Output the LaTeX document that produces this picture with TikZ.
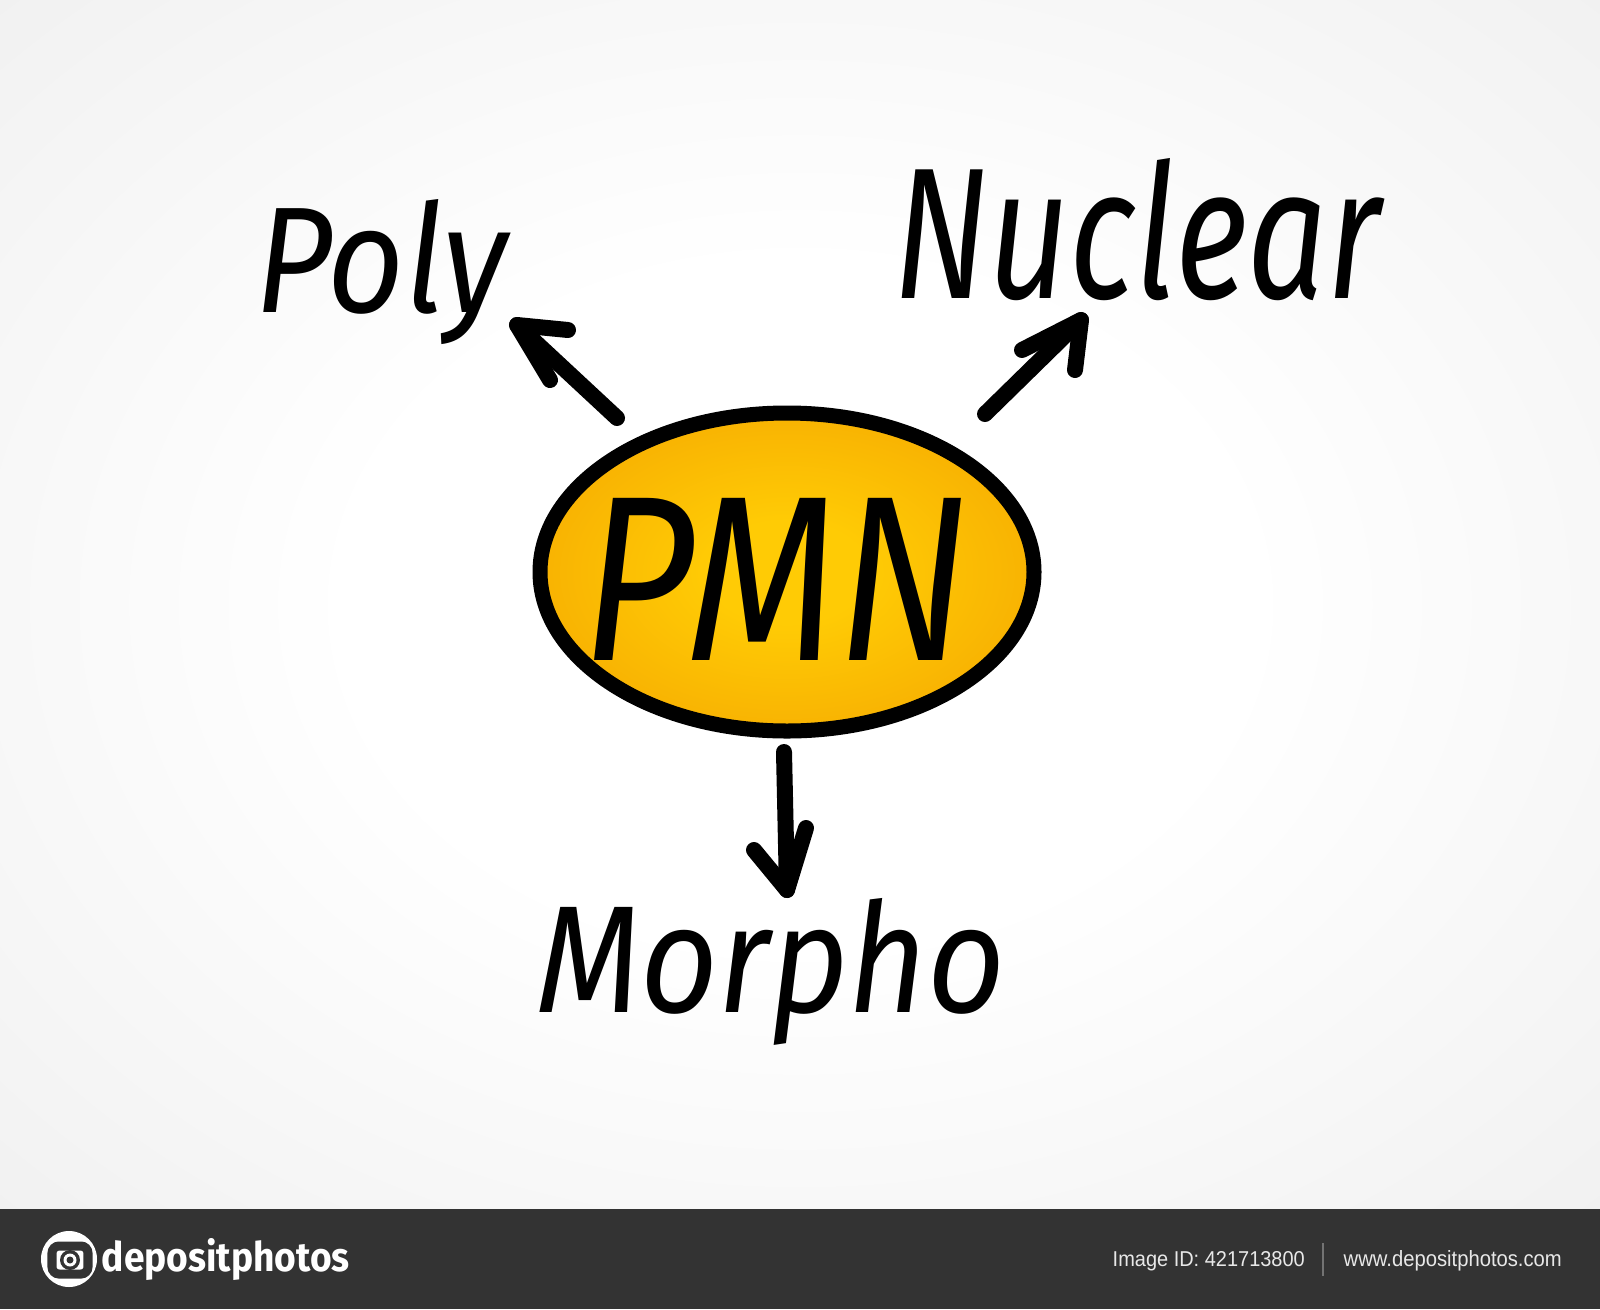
\documentclass[tikz,border=0pt]{standalone}
\usepackage{fontspec}
\setmainfont{Fira Sans}
\newfontfamily\barfont{Liberation Sans}
\usepackage{graphicx}
\definecolor{barcol}{HTML}{333333}
\definecolor{pmnyellow}{HTML}{FFCB05}
\definecolor{pmnorange}{HTML}{F3A000}
\definecolor{bgedge}{HTML}{E0E0E0}
\definecolor{bgmid}{HTML}{EBEBEB}
\definecolor{bartext}{HTML}{E8E8E8}
\pgfdeclareradialshading{bgshade}{\pgfpoint{0bp}{0bp}}{color(0bp)=(white); color(14bp)=(white); color(45bp)=(bgmid); color(71bp)=(bgedge)}
\pgfdeclareradialshading{pmnshade}{\pgfpoint{0bp}{0bp}}{color(0bp)=(pmnyellow); color(8bp)=(pmnyellow); color(38bp)=(pmnorange); color(60bp)=(pmnorange)}
\tikzset{
  hand/.style={line width=1.6mm, line cap=round, line join=round, black},
  word/.style={anchor=base west, inner sep=0pt, outer sep=0pt, font=\itshape},
}
\begin{document}
\begin{tikzpicture}[x=0.01cm, y=-0.01cm]
\useasboundingbox (0,0) rectangle (1600,1309);
% background
\shade[shading=bgshade] (0,0) rectangle (1600,1209);
% central blob
\shadedraw[shading=pmnshade, line width=1.5mm, line join=round]
  (787,572) ellipse [x radius=247, y radius=159];
\node[word] (pmn) at (582,660) {\resizebox{3.87cm}{1.62cm}{PMN}};
% outer words
\node[word] (poly) at (255,312) {\resizebox{2.52cm}{1.13cm}{Poly}};
\node[word] (nuclear) at (893,298) {\resizebox{4.87cm}{1.40cm}{Nuclear}};
\node[word] (morpho) at (536,1012) {\resizebox{4.69cm}{1.14cm}{Morpho}};
% arrow coordinates
\coordinate (polytail) at (617,418);
\coordinate (polytip) at (517,325);
\coordinate (polyb1) at (568,330);
\coordinate (polyb2) at (550,380);
\coordinate (nuctail) at (985,414);
\coordinate (nuctip) at (1081,320);
\coordinate (nucb1) at (1022,350);
\coordinate (nucb2) at (1075,370);
\coordinate (mortail) at (784,752);
\coordinate (mortip) at (787,890);
\coordinate (morb1) at (754,850);
\coordinate (morb2) at (806,828);
\draw[hand] (polytail) -- (polytip);
\draw[hand] (polyb1) -- (polytip) -- (polyb2);
\draw[hand] (nuctail) -- (nuctip);
\draw[hand] (nucb1) -- (nuctip) -- (nucb2);
\draw[hand] (mortail) -- (mortip);
\draw[hand] (morb1) -- (mortip) -- (morb2);
% bottom bar
\fill[barcol] (0,1209) rectangle (1600,1309);
\fill[white] (69,1259) circle (28);
\draw[barcol, line width=0.9mm, rounded corners=2pt] (52,1246) rectangle (88,1274);
\fill[barcol] (70,1260) circle (10);
\fill[white] (70,1260) circle (6.5);
\fill[barcol] (70,1260) circle (3.5);
\node[anchor=base west, inner sep=0pt, text=white, font=\bfseries] (logo) at (101,1271) {\resizebox{2.48cm}{0.33cm}{depositphotos}};
\node[anchor=base west, inner sep=0pt, text=bartext, font=\barfont] (imgid) at (1112,1266) {\resizebox{1.92cm}{0.15cm}{Image ID: 421713800}};
\node[anchor=base west, inner sep=0pt, text=bartext, font=\barfont] (url) at (1343,1266) {\resizebox{2.18cm}{0.16cm}{www.depositphotos.com}};
\draw[black!55, line width=0.4pt] (1323,1243) -- (1323,1276);
\end{tikzpicture}
\end{document}
